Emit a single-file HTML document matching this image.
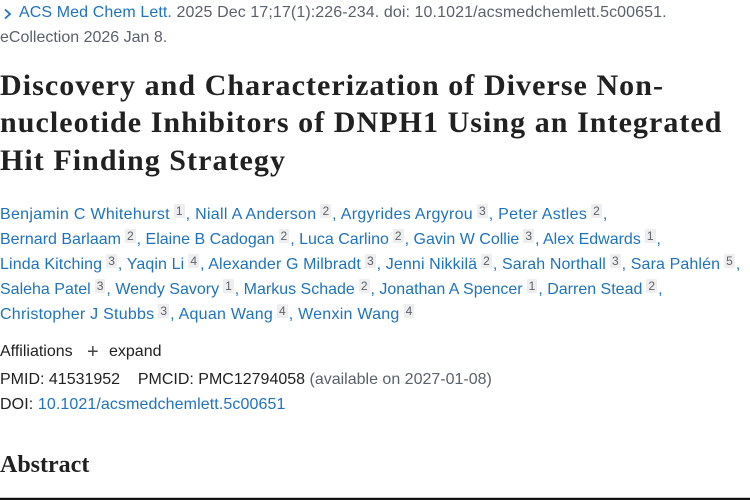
<!DOCTYPE html>
<html>
<head>
<meta charset="utf-8">
<style>
  html, body { margin:0; padding:0; background:#fff; }
  body { width:750px; height:500px; position:relative; overflow:hidden;
         font-family:"Liberation Sans", "DejaVu Sans", sans-serif; color:#212121; }
  .ln { position:absolute; left:0; white-space:nowrap; font-size:16px; line-height:16px; }
  .blue { color:#1e73be; }
  .grey { color:#5b616b; }
  .t { position:absolute; left:0; white-space:nowrap; font-family:"Liberation Serif", serif;
       font-weight:bold; font-size:30px; line-height:30px; letter-spacing:1.05px; color:#212121; }
  .sup { display:inline-block; background:#eeeeee; color:#5b616b; font-size:12px; line-height:14px;
         height:14px; padding:0 2px; margin-left:4px; margin-right:1px; position:relative; top:-4px; border-radius:1px; letter-spacing:0; }
  .abs { position:absolute; left:0; white-space:nowrap; font-family:"Liberation Serif", serif;
         font-weight:bold; font-size:24px; line-height:24px; color:#212121; }
  .bar1 { position:absolute; left:0; top:497px; width:750px; height:1px; background:#c8c8c8; }
  .bar2 { position:absolute; left:0; top:498px; width:750px; height:2px; background:#111; }
</style>
</head>
<body>
  <svg style="position:absolute;left:3px;top:8px;" width="9" height="12" viewBox="0 0 9 12">
    <polyline points="2,1.5 7,6 2,10.5" fill="none" stroke="#1e73be" stroke-width="1.8"/>
  </svg>
  <div class="ln" style="top:4.5px;left:19px;letter-spacing:0.1px;"><span class="blue">ACS Med Chem Lett.</span> <span class="grey">2025 Dec 17;17(1):226-234. doi: 10.1021/acsmedchemlett.5c00651.</span></div>
  <div class="ln grey" style="top:29.5px;">eCollection 2026 Jan 8.</div>

  <div class="t" style="top:71px;">Discovery and Characterization of Diverse Non&#8209;</div>
  <div class="t" style="top:108px;">nucleotide Inhibitors of DNPH1 Using an Integrated</div>
  <div class="t" style="top:146px;">Hit Finding Strategy</div>

  <div class="ln blue" style="top:206.5px;letter-spacing:0.3px;">Benjamin C Whitehurst<span class="sup">1</span>, Niall A Anderson<span class="sup">2</span>, Argyrides Argyrou<span class="sup">3</span>, Peter Astles<span class="sup">2</span>,</div>
  <div class="ln blue" style="top:231.5px;letter-spacing:0px;">Bernard Barlaam<span class="sup">2</span>, Elaine B Cadogan<span class="sup">2</span>, Luca Carlino<span class="sup">2</span>, Gavin W Collie<span class="sup">3</span>, Alex Edwards<span class="sup">1</span>,</div>
  <div class="ln blue" style="top:256.5px;letter-spacing:0.12px;">Linda Kitching<span class="sup">3</span>, Yaqin Li<span class="sup">4</span>, Alexander G Milbradt<span class="sup">3</span>, Jenni Nikkilä<span class="sup">2</span>, Sarah Northall<span class="sup">3</span>, Sara Pahlén<span class="sup">5</span>,</div>
  <div class="ln blue" style="top:281.5px;letter-spacing:0px;">Saleha Patel<span class="sup">3</span>, Wendy Savory<span class="sup">1</span>, Markus Schade<span class="sup">2</span>, Jonathan A Spencer<span class="sup">1</span>, Darren Stead<span class="sup">2</span>,</div>
  <div class="ln blue" style="top:306.5px;letter-spacing:0.25px;">Christopher J Stubbs<span class="sup">3</span>, Aquan Wang<span class="sup">4</span>, Wenxin Wang<span class="sup">4</span></div>

  <div class="ln" style="top:343.5px;">Affiliations</div>
  <div class="ln" style="top:341.5px;left:87px;color:#444;font-size:20px;line-height:20px;">+</div>
  <div class="ln" style="top:343.5px;left:109px;">expand</div>
  <div class="ln" style="top:371.5px;">PMID: 41531952 &nbsp;&nbsp; PMCID: PMC12794058 <span class="grey">(available on 2027-01-08)</span></div>
  <div class="ln" style="top:396.5px;letter-spacing:0.1px;">DOI: <span class="blue">10.1021/acsmedchemlett.5c00651</span></div>

  <div class="abs" style="top:453px;">Abstract</div>

  <div class="bar1"></div>
  <div class="bar2"></div>
</body>
</html>
